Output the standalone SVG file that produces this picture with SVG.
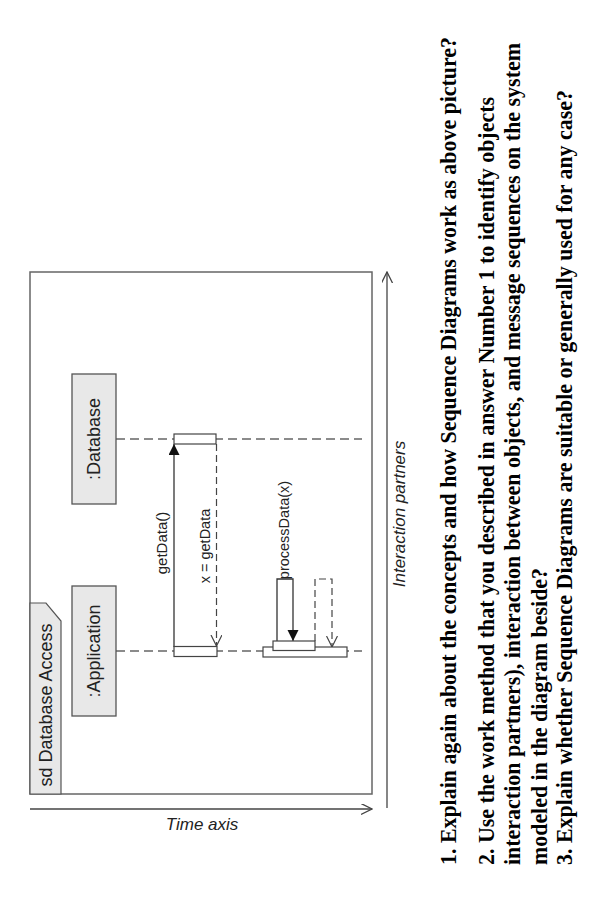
<svg xmlns="http://www.w3.org/2000/svg" width="592" height="916" viewBox="0 0 592 916">
<style>
.frame{fill:none;stroke:#666;stroke-width:1.5}
.tab{fill:#e8e8e8;stroke:#555;stroke-width:1.2}
.obj{fill:#e8e8e8;stroke:#555;stroke-width:1.3}
.bar{fill:#fff;stroke:#444;stroke-width:1.2}
.life{stroke:#666;stroke-width:1.4;stroke-dasharray:9 5;fill:none}
.msg{stroke:#333;stroke-width:1.3;fill:none}
.ret{stroke:#444;stroke-width:1.2;stroke-dasharray:7 4;fill:none}
.axis{stroke:#444;stroke-width:1.3;fill:none}
.lbl{font-family:"Liberation Sans",Arial,sans-serif;fill:#222}
.q{font-family:"Liberation Serif","Times New Roman",serif;font-weight:bold;font-size:22px;fill:#000}
</style>
<defs>
<marker id="filled" markerUnits="userSpaceOnUse" markerWidth="12" markerHeight="12" refX="11" refY="5.5" orient="auto">
<path d="M0,0 L11,5.5 L0,11 z" fill="#111"/>
</marker>
<marker id="open" markerUnits="userSpaceOnUse" markerWidth="12" markerHeight="12" refX="11" refY="5.5" orient="auto">
<path d="M0,0 L11,5.5 L0,11" fill="none" stroke="#444" stroke-width="1.2"/>
</marker>
<marker id="axisarrow" markerUnits="userSpaceOnUse" markerWidth="12" markerHeight="12" refX="11" refY="5.5" orient="auto">
<path d="M0,0 L11,5.5 L0,11" fill="none" stroke="#444" stroke-width="1.3"/>
</marker>
</defs>

<g id="frame">
<rect class="frame" x="30" y="272" width="342" height="522"/>
<path class="tab" d="M30,603 L46,603 L61,621 L61,794 L30,794 Z"/>
<text class="lbl" font-size="18" text-anchor="middle" transform="translate(52,705) rotate(-90)">sd Database Access</text>
</g>

<g id="connectors">
<line class="life" x1="116" y1="651" x2="362" y2="651"/>
<line class="life" x1="116" y1="439" x2="362" y2="439"/>
<line class="msg" x1="174" y1="647" x2="174" y2="444" marker-end="url(#filled)"/>
<line class="ret" x1="216.5" y1="444" x2="216.5" y2="646" marker-end="url(#open)"/>
<path class="msg" d="M277,641 L277,579 L293,579 L293,641" marker-end="url(#filled)"/>
<path class="ret" d="M315,641 L315,579 L332,579 L332,647" marker-end="url(#open)"/>
<line class="axis" x1="30" y1="809" x2="372" y2="809" marker-end="url(#axisarrow)"/>
<line class="axis" x1="387" y1="808" x2="387" y2="272" marker-end="url(#axisarrow)"/>
</g>

<g id="application">
<rect class="obj" x="72" y="586" width="44" height="130"/>
<text class="lbl" font-size="18" text-anchor="middle" transform="translate(100,651) rotate(-90)">:Application</text>
</g>

<g id="database">
<rect class="obj" x="72" y="374" width="44" height="130"/>
<text class="lbl" font-size="18" text-anchor="middle" transform="translate(100,439) rotate(-90)">:Database</text>
</g>

<g id="activations">
<rect class="bar" x="174" y="434" width="42" height="10"/>
<rect class="bar" x="174" y="646.5" width="43" height="10"/>
<rect class="bar" x="263" y="647" width="84" height="10"/>
<rect class="bar" x="273" y="641" width="42" height="9.5"/>
</g>

<g id="message-labels">
<text class="lbl" font-size="15" text-anchor="middle" transform="translate(167,543) rotate(-90)">getData()</text>
<text class="lbl" font-size="14.5" text-anchor="middle" transform="translate(210,546) rotate(-90)">x = getData</text>
<text class="lbl" font-size="14.5" text-anchor="middle" transform="translate(289,530) rotate(-90)">processData(x)</text>
</g>

<g id="axis-labels">
<text class="lbl" font-size="17" font-style="italic" text-anchor="middle" x="202" y="830">Time axis</text>
<text class="lbl" font-size="17" font-style="italic" text-anchor="middle" transform="translate(405,514) rotate(-90)">Interaction partners</text>
</g>

<g id="questions">
<text class="q" transform="translate(456,865) rotate(-90) scale(1,1.09)" textLength="828" lengthAdjust="spacingAndGlyphs">1. Explain again about the concepts and how Sequence Diagrams work as above picture?</text>
<text class="q" transform="translate(494,865) rotate(-90) scale(1,1.09)" textLength="768" lengthAdjust="spacingAndGlyphs">2. Use the work method that you described in answer Number 1 to identify objects</text>
<text class="q" transform="translate(520,865) rotate(-90) scale(1,1.09)" textLength="822" lengthAdjust="spacingAndGlyphs">interaction partners), interaction between objects, and message sequences on the system</text>
<text class="q" transform="translate(547,865) rotate(-90) scale(1,1.09)" textLength="297" lengthAdjust="spacingAndGlyphs">modeled in the diagram beside?</text>
<text class="q" transform="translate(572,865) rotate(-90) scale(1,1.09)" textLength="775" lengthAdjust="spacingAndGlyphs">3. Explain whether Sequence Diagrams are suitable or generally used for any case?</text>
</g>
</svg>
